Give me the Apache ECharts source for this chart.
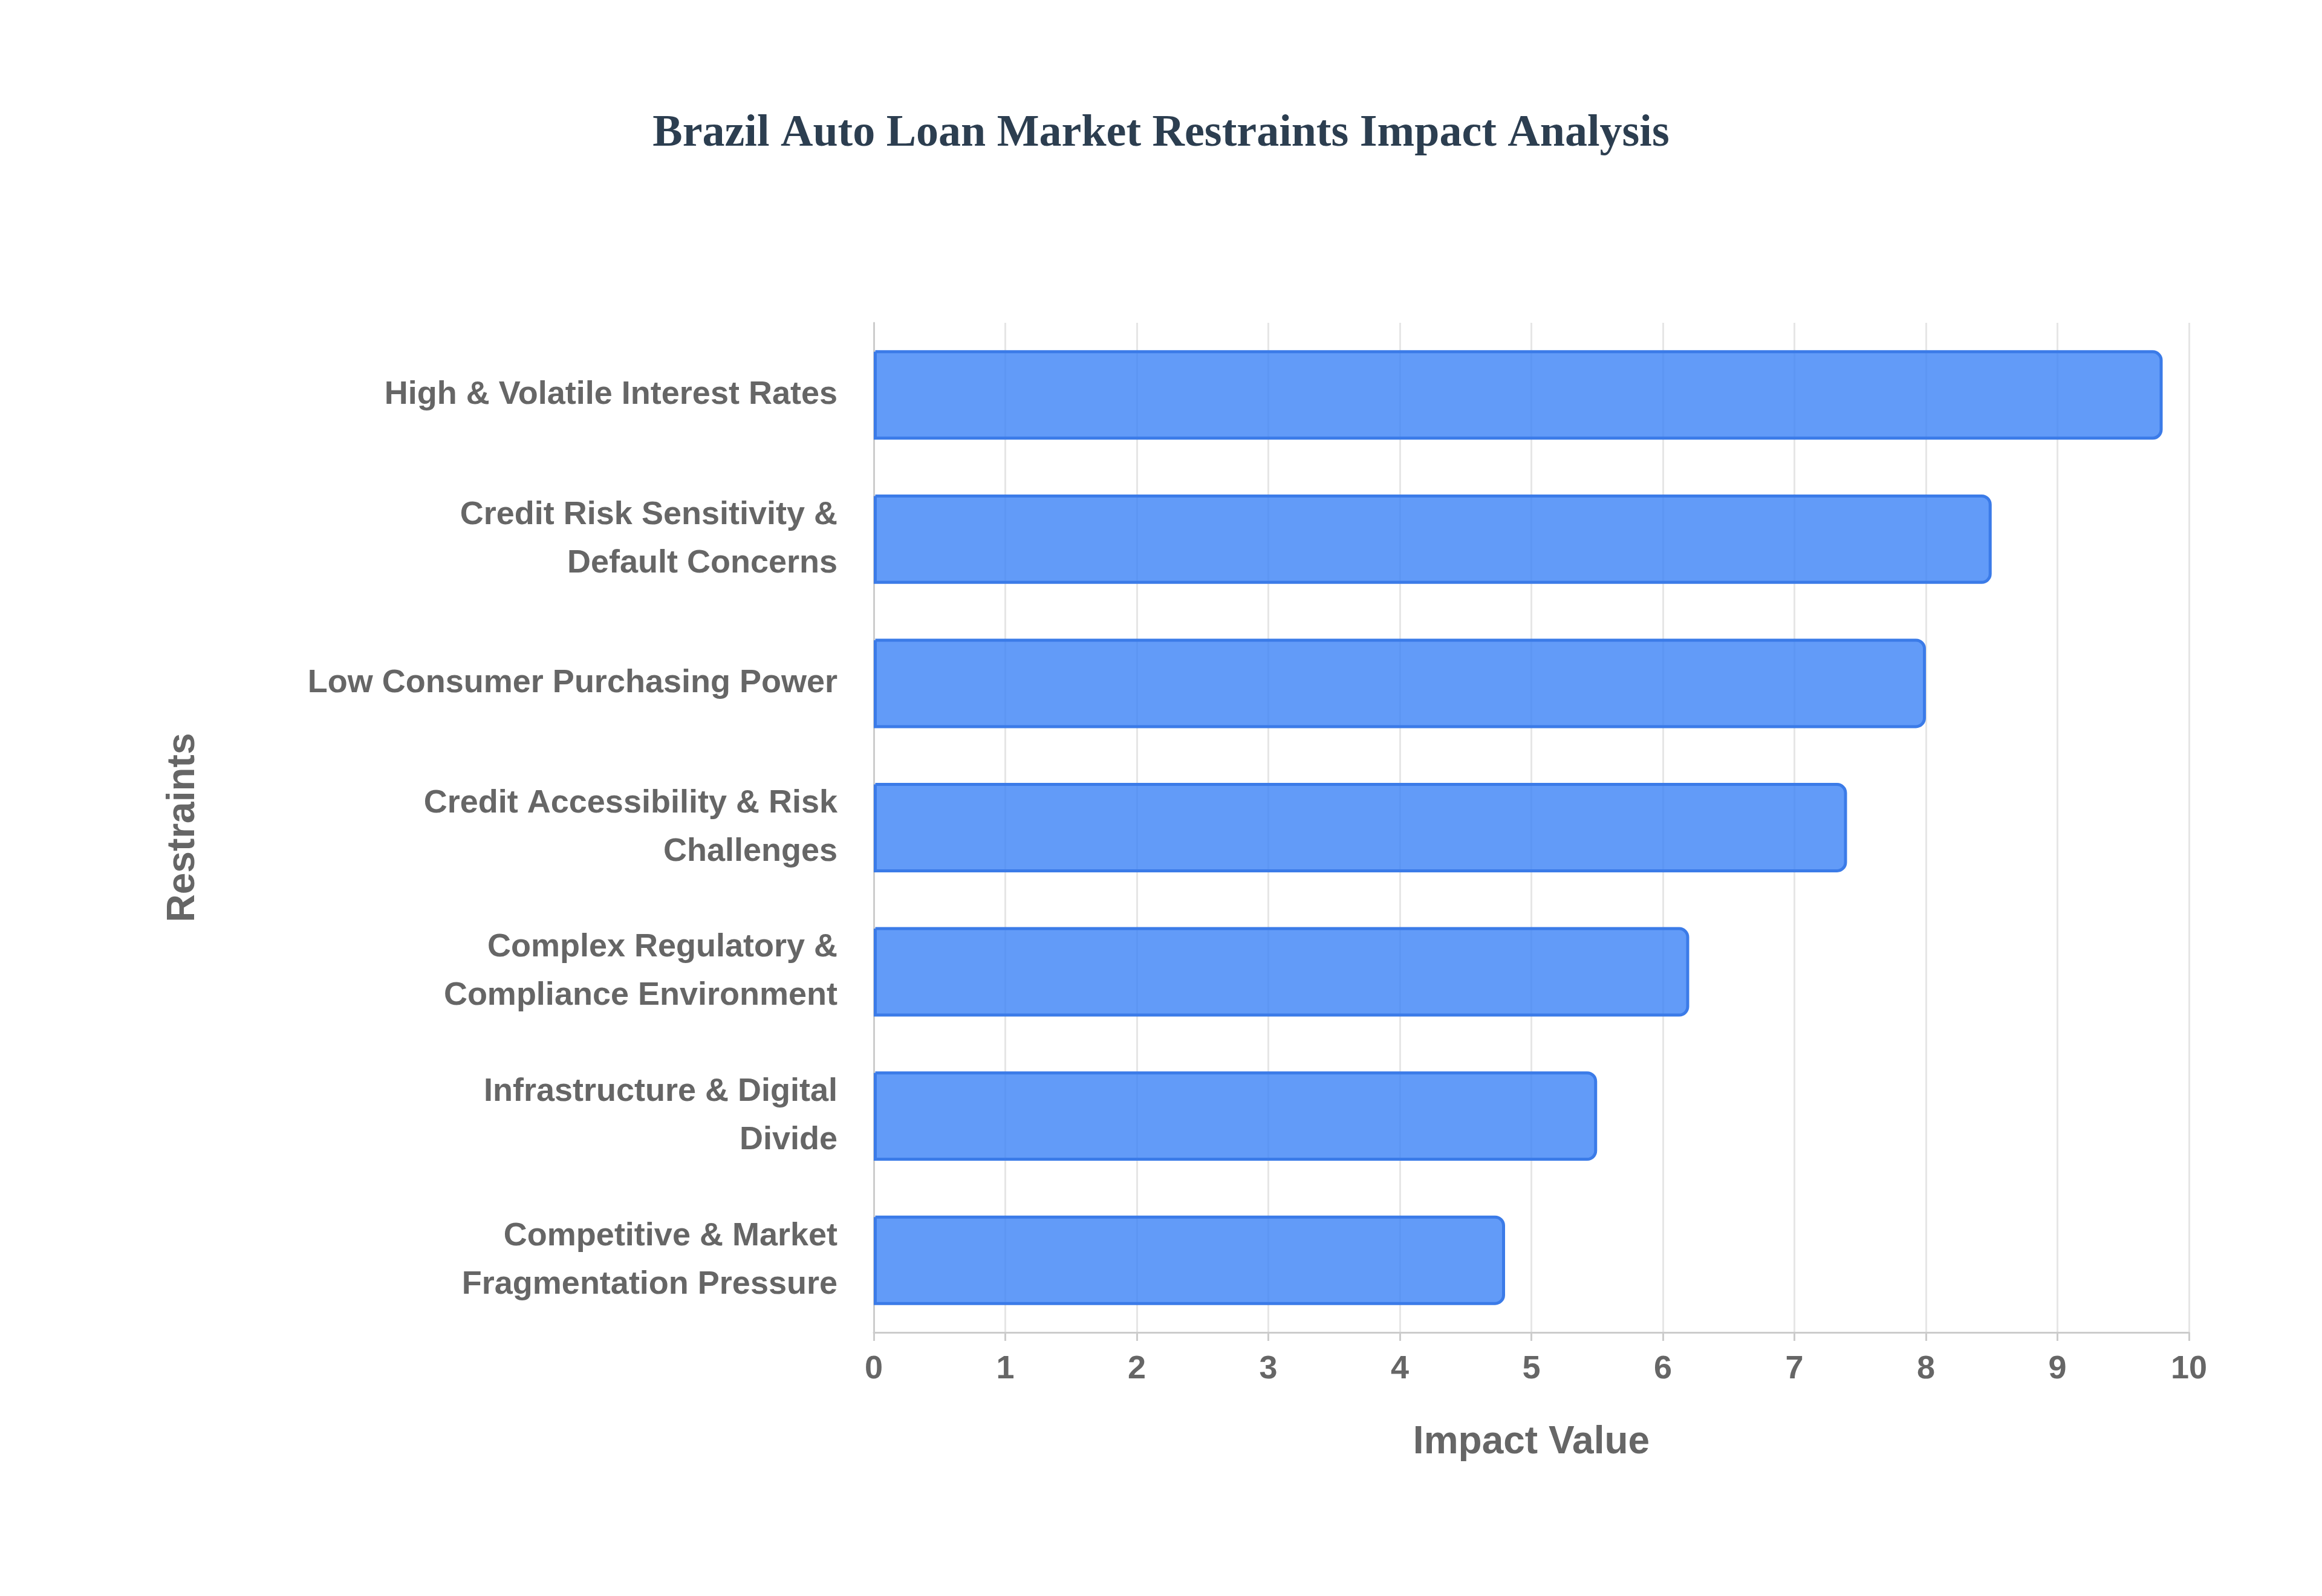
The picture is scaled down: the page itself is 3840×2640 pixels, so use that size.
<!DOCTYPE html>
<html>
<head>
<meta charset="utf-8">
<script src="https://cdn.jsdelivr.net/npm/echarts@6/dist/echarts.min.js"></script>
<style>html,body{margin:0;padding:0;background:#fff}#chart{width:3840px;height:2640px}</style>
</head>
<body>
<div id="chart"></div>
<script>
const restraints = [
  "High & Volatile Interest Rates",
  "Credit Risk Sensitivity &\nDefault Concerns",
  "Low Consumer Purchasing Power",
  "Credit Accessibility & Risk\nChallenges",
  "Complex Regulatory &\nCompliance Environment",
  "Infrastructure & Digital\nDivide",
  "Competitive & Market\nFragmentation Pressure"
];
const impactValues = [9.8, 8.5, 8.0, 7.4, 6.2, 5.5, 4.8];

const chart = echarts.init(document.getElementById("chart"));
chart.setOption({
  backgroundColor: "#fff",
  title: {
    text: "Brazil Auto Loan Market Restraints Impact Analysis",
    left: "center",
    top: 180,
    textStyle: { fontFamily: "Liberation Serif", fontWeight: "bold", fontSize: 74, color: "#2c3e50" }
  },
  grid: { left: 1445, right: 220, top: 534, bottom: 436 },
  xAxis: {
    type: "value",
    min: 0,
    max: 10,
    interval: 1,
    name: "Impact Value",
    nameLocation: "middle",
    nameGap: 150,
    nameTextStyle: { fontFamily: "Liberation Sans", fontWeight: "bold", fontSize: 64, color: "#666" },
    axisLine: { show: true, lineStyle: { color: "#ccc", width: 3 } },
    axisTick: { show: true, length: 14, lineStyle: { color: "#ccc", width: 3 } },
    axisLabel: { fontFamily: "Liberation Sans", fontWeight: "bold", fontSize: 54, color: "#666", margin: 34 },
    splitLine: { show: true, lineStyle: { color: "#e6e6e6", width: 3 } }
  },
  yAxis: {
    type: "category",
    inverse: true,
    data: restraints,
    name: "Restraints",
    nameLocation: "middle",
    nameGap: 1110,
    nameTextStyle: { fontFamily: "Liberation Sans", fontWeight: "bold", fontSize: 64, color: "#666" },
    axisLine: { show: true, lineStyle: { color: "#ccc", width: 3 } },
    axisTick: { show: false },
    axisLabel: { fontFamily: "Liberation Sans", fontWeight: "bold", fontSize: 54, color: "#666", margin: 60, lineHeight: 80 }
  },
  series: [{
    type: "bar",
    data: impactValues,
    barWidth: "62%",
    itemStyle: { color: "rgba(59,130,246,0.8)", borderColor: "#3b7be8", borderWidth: 5, borderRadius: [0, 14, 14, 0] }
  }]
});
</script>
</body>
</html>
